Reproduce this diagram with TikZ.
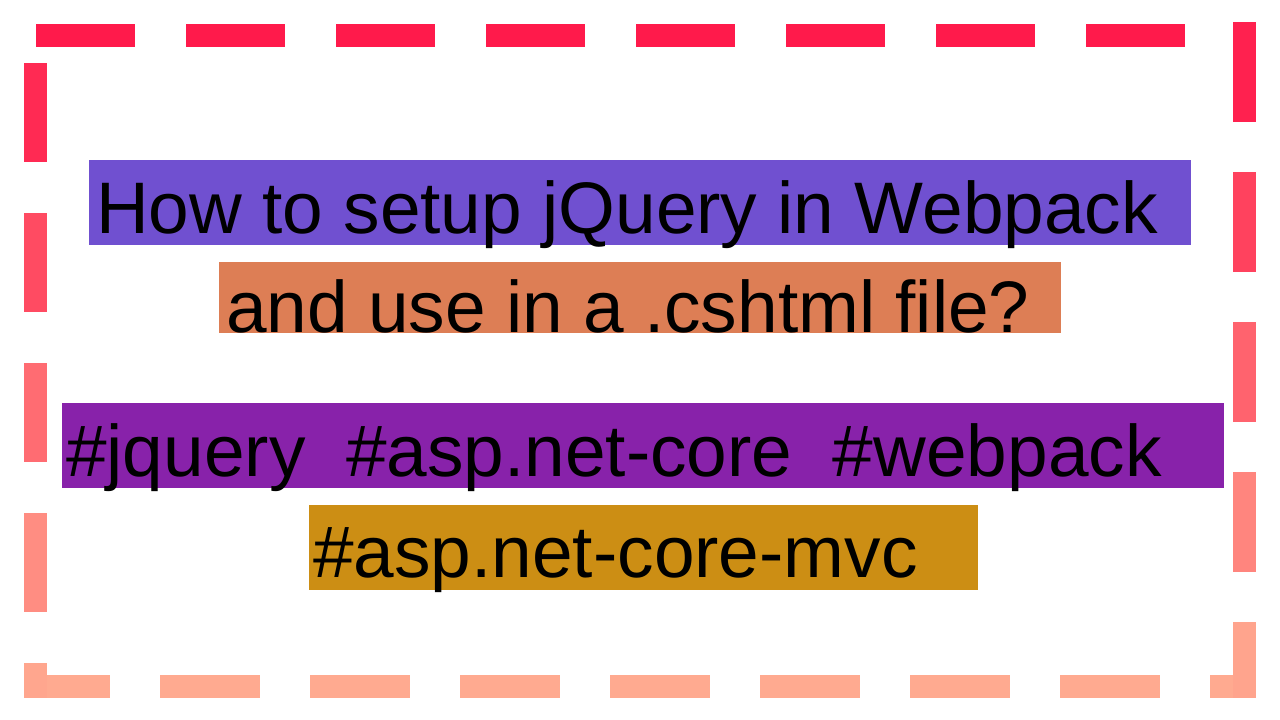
\documentclass[tikz,border=0pt]{standalone}
\usepackage{fontspec}
\setmainfont{Liberation Sans}
\begin{document}
\begin{tikzpicture}[x=1pt,y=-1pt,
  lbl/.style={anchor=base west,inner sep=0pt,font=\fontsize{73}{73}\selectfont,text=black}]
\definecolor{ctop}{HTML}{FF1A4B}
\definecolor{cbot}{HTML}{FFAA90}
\definecolor{cA}{HTML}{7050D0}
\definecolor{cB}{HTML}{DD7E55}
\definecolor{cC}{HTML}{8822AA}
\definecolor{cD}{HTML}{CC8E14}
\useasboundingbox (0,0) rectangle (1280,720);
\fill[white] (0,0) rectangle (1280,720);
% top dashes
\foreach \x in {36,186,...,1086} \fill[ctop] (\x,24) rectangle ++(99,23);
\fill[ctop] (1236,24) rectangle (1256,47);
% bottom dashes
\fill[cbot] (24,675) rectangle (110,698);
\foreach \x in {160,310,...,1060} \fill[cbot] (\x,675) rectangle ++(100,23);
\fill[cbot] (1210,675) rectangle (1256,698);
% left dashes
\foreach \y in {63,213,363,513} {
  \pgfmathtruncatemacro\t{(\y+15)/6.52}
  \fill[cbot!\t!ctop] (24,\y) rectangle ++(23,99);}
\fill[cbot!97!ctop] (24,663) rectangle (47,698);
% right dashes
\foreach \y in {22,172,322,472} {
  \pgfmathtruncatemacro\t{(\y+15)/6.52}
  \fill[cbot!\t!ctop] (1233,\y) rectangle ++(23,100);}
\fill[cbot!96!ctop] (1233,622) rectangle (1256,698);
% boxes
\fill[cA] (89,160) rectangle (1191,245);
\node[lbl] (t1) at (96,233) {How to setup jQuery in Webpack};
\fill[cB] (219,262) rectangle (1061,333);
\node[lbl] (t2) at (226,332) {and use in a .cshtml file?};
\fill[cC] (62,403) rectangle (1224,488);
\node[lbl] (t3) at (66,476) {\#jquery\ \ \#asp.net-core\ \ \#webpack};
\fill[cD] (309,505) rectangle (978,590);
\node[lbl] (t4) at (313,577) {\#asp.net-core-mvc};
\end{tikzpicture}
\end{document}
